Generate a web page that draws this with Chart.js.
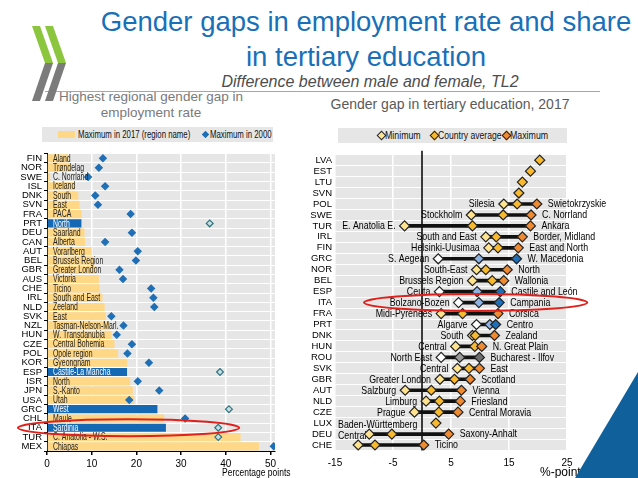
<!DOCTYPE html>
<html>
<head>
<meta charset="utf-8">
<script src="https://cdn.jsdelivr.net/npm/chart.js@4.4.1/dist/chart.umd.min.js"></script>
<style>
body { margin: 0; width: 638px; height: 478px; position: relative; overflow: hidden; background: #fff; font-family: "Liberation Sans", Arial, sans-serif; }
.abs { position: absolute; white-space: nowrap; }
.squeeze { display: inline-block; transform-origin: left center; }
.title { color: #1870B8; font-size: 27.5px; left: 92px; width: 548px; text-align: center; line-height: 30px; }
.sub { color: #7a7a7a; font-size: 13.5px; text-align: center; line-height: 16px; }
.legend { background: #E6E6E6; color: #111; line-height: 15px; }
.dia { position: absolute; width: 5px; height: 5px; transform: rotate(45deg); border: 1px solid #222; top: 4px; }
</style>
</head>
<body>

<div class="abs title" style="top:7px">Gender gaps in employment rate and share</div>
<div class="abs title" style="top:42px">in tertiary education</div>
<div class="abs" style="left:95px; width:550px; top:73px; text-align:center; font-size:16px; font-style:italic; color:#4d4d4d">Difference between male and female, TL2</div>
<div class="abs" style="left:45px; top:91px; width:555px; height:1px; background:#a6a6a6"></div>

<div class="abs sub" style="left:16px; width:270px; top:89px">Highest regional gender gap in<br>employment rate</div>
<div class="abs sub" style="left:305px; width:290px; top:96px; color:#5a5a5a; font-size:14px">Gender gap in tertiary education, 2017</div>

<div class="abs legend" style="left:42px; top:127px; width:231px; height:15px; font-size:10px">
  <span class="abs" style="left:16px; top:4px; width:17px; height:7px; background:#FFD887"></span>
  <span class="abs squeeze" style="left:36px; top:0; transform:scaleX(0.78)">Maximum in 2017 (region name)</span>
  <span class="dia" style="left:161px; width:3px; height:3px; background:#1F6FB6; border-color:#1F6FB6; top:5px"></span>
  <span class="abs squeeze" style="left:168px; top:0; transform:scaleX(0.78)">Maximum in 2000</span>
</div>

<div class="abs legend" style="left:338px; top:128px; width:229px; height:15px; font-size:10px">
  <span class="dia" style="left:40px; background:#FFE38F"></span>
  <span class="abs squeeze" style="left:47px; top:0; transform:scaleX(0.88)">Minimum</span>
  <span class="dia" style="left:93px; background:#F7BA2E"></span>
  <span class="abs squeeze" style="left:100px; top:0; transform:scaleX(0.86)">Country average</span>
  <span class="dia" style="left:165px; background:#EE8A32"></span>
  <span class="abs squeeze" style="left:172px; top:0; transform:scaleX(0.88)">Maximum</span>
</div>

<div class="abs" style="left:0; top:146px"><canvas id="empChart" width="300" height="332"></canvas></div>
<div class="abs" style="left:300px; top:146px"><canvas id="eduChart" width="338" height="332"></canvas></div>

<div class="abs squeeze" style="left:222px; top:467px; font-size:10px; color:#000; transform:scaleX(0.85)">Percentage points</div>
<div class="abs" style="left:540px; top:465px; font-size:12px; color:#000">%-points</div>

<svg class="abs" style="left:0; top:0; z-index:5" width="638" height="478">
  <polygon points="32,26 40,26 53,63 45,63" fill="#8CC63E"/>
  <polygon points="45,63 53,63 40,101 32,101" fill="#7b7b7b"/>
  <polygon points="45,26 53,26 66,63 58,63" fill="#8CC63E"/>
  <polygon points="58,63 66,63 53,101 45,101" fill="#7b7b7b"/>
  <polygon points="575,478 638,478 638,372" fill="#0F609B"/>
</svg>

<script>
var FONT = '"Liberation Sans", Arial, sans-serif';

// Left chart: highest regional gender gap in employment rate
var countriesL = ["FIN", "NOR", "SWE", "ISL", "DNK", "SVN", "FRA", "PRT", "DEU", "CAN", "AUT", "BEL", "GBR", "AUS", "CHE", "IRL",
    "NLD", "SVK", "NZL", "HUN", "CZE", "POL", "KOR", "ESP", "ISR", "JPN", "USA", "GRC", "CHL", "ITA", "TUR", "MEX"];
var regionsL = ["Aland", "Trøndelag", "C. Norrland", "Iceland", "South", "East", "PACA", "North", "Saarland", "Alberta", "Vorarlberg",
    "Brussels Region", "Greater London", "Victoria", "Ticino", "South and East", "Zeeland", "East", "Tasman-Nelson-Marl.",
    "W. Transdanubia", "Central Bohemia", "Opole region", "Gyeongnam", "Castile-La Mancha", "North", "S.-Kanto", "Utah",
    "West", "Maule", "Sardinia", "C. Anatolia - W.S.", "Chiapas"];
var gap2017 = [4.8, 5.5, 0.7, 6.2, 7.0, 7.3, 7.7, 7.7, 8.4, 8.5, 10.0, 10.3, 11.0, 11.6, 11.8, 12.4,
    12.9, 13.1, 14.0, 14.4, 15.1, 15.9, 17.9, 17.9, 18.6, 19.2, 19.5, 24.7, 26.2, 26.6, 43.3, 47.4];
var gap2000 = [12.5, 11.6, 9.2, 13.0, 10.8, 11.4, 18.7, 36.4, 19.0, 13.0, 20.3, 19.9, 16.2, 17.0, 23.3, 23.8,
    24.0, 14.4, 17.1, 15.6, 19.0, 18.0, 22.8, 38.7, 20.3, 25.1, 18.4, 40.7, 30.9, 38.3, 38.3, 50.7];
var highlightL = ["PRT", "ESP", "GRC", "ITA"];
var hollow2000 = ["PRT", "ESP", "GRC", "ITA", "TUR"];
var ticksL = [0, 10, 20, 30, 40, 50];

// Right chart: gender gap in tertiary education, 2017
var countriesR = ["LVA", "EST", "LTU", "SVN", "POL", "SWE", "TUR", "IRL", "FIN", "GRC", "NOR", "BEL", "ESP", "ITA",
    "FRA", "PRT", "DNK", "HUN", "ROU", "SVK", "GBR", "AUT", "NLD", "CZE", "LUX", "DEU", "CHE"];
var minR = [null, null, null, null, 14.1, 8.5, -3.0, 11.0, 11.5, 2.8, 9.4, 8.7, 3.0, 6.3,
    3.3, 9.4, 8.7, 5.8, 3.3, 6.1, 3.1, -2.9, 0.7, -1.3, null, -9.1, -11.0];
var avgR = [20.3, 18.7, 17.3, 16.7, 16.4, 14.0, 8.7, 12.8, 13.1, 9.8, 11.0, 12.1, 9.5, 9.8,
    7.0, 11.7, 9.2, 9.1, 6.5, 8.1, 5.6, 1.6, 3.0, 2.9, 2.4, -5.2, -8.1];
var maxR = [null, null, null, null, 19.8, 18.8, 18.7, 17.3, 16.6, 16.3, 14.7, 14.1, 13.5, 13.3,
    13.1, 12.7, 12.5, 10.3, 9.9, 9.9, 8.3, 6.8, 6.6, 6.2, null, 4.6, 0.3];
var minRegion = ["", "", "", "", "Silesia", "Stockholm", "E. Anatolia E.", "South and East", "Helsinki-Uusimaa", "S. Aegean",
    "South-East", "Brussels Region", "Ceuta", "Bolzano-Bozen", "Midi-Pyrénées", "Algarve", "South", "Central", "North East",
    "Central", "Greater London", "Salzburg", "Limburg", "Prague", "", "Baden-Württemberg", "Central"];
var maxRegion = ["", "", "", "", "Swietokrzyskie", "C. Norrland", "Ankara", "Border, Midland", "East and North", "W. Macedonia",
    "North", "Wallonia", "Castile and León", "Campania", "Corsica", "Centro", "Zealand", "N. Great Plain", "Bucharest - Ilfov",
    "East", "Scotland", "Vienna", "Friesland", "Central Moravia", "", "Saxony-Anhalt", "Ticino"];
var blueRows = ["GRC", "ESP", "ITA", "PRT"];
var greyRows = ["ROU"];
var ticksR = [-15, -5, 5, 15, 25];

Chart.defaults.font.family = FONT;
Chart.defaults.color = "#000";

// narrow text: the original uses a condensed face, so squeeze it horizontally
function squeezedText(ctx, text, x, y, align, sx) {
    ctx.save();
    ctx.translate(x, y);
    ctx.scale(sx, 1);
    ctx.textAlign = align;
    ctx.fillText(text, 0, 0);
    ctx.restore();
}

// gray plot background
var grayBg = {
    id: "grayBg",
    beforeDraw: function (chart) {
        var a = chart.chartArea;
        chart.ctx.save();
        chart.ctx.fillStyle = "#E6E6E6";
        chart.ctx.fillRect(a.left, a.top, a.right - a.left, a.bottom - a.top);
        chart.ctx.restore();
    }
};

// red ring around the Italian row
function ringPlugin(xFrom, xTo) {
    return {
        id: "ring",
        afterDraw: function (chart) {
            var ctx = chart.ctx;
            var y = chart.scales.y.getPixelForValue(chart.data.labels.indexOf("ITA"));
            var x1 = chart.scales.x.getPixelForValue(xFrom);
            var x2 = chart.scales.x.getPixelForValue(xTo);
            ctx.save();
            ctx.strokeStyle = "#E0201B";
            ctx.lineWidth = 2;
            ctx.beginPath();
            ctx.ellipse((x1 + x2) / 2, y, (x2 - x1) / 2, 8.5, 0, 0, Math.PI * 2);
            ctx.stroke();
            ctx.restore();
        }
    };
}

var barLabels = {
    id: "barLabels",
    afterDatasetsDraw: function (chart) {
        var ctx = chart.ctx;
        ctx.save();
        ctx.font = "10px " + FONT;
        ctx.textBaseline = "middle";
        regionsL.forEach(function (name, i) {
            var y = chart.scales.y.getPixelForValue(i);
            ctx.fillStyle = highlightL.indexOf(countriesL[i]) >= 0 ? "#fff" : "#222";
            squeezedText(ctx, name, chart.chartArea.left + 6, y + 0.5, "left", 0.69);
        });
        ctx.restore();
    }
};

new Chart(document.getElementById("empChart"), {
    type: "bar",
    data: {
        labels: countriesL,
        datasets: [
            {
                type: "line",
                label: "Maximum in 2000",
                data: gap2000,
                showLine: false,
                pointStyle: "rectRot",
                pointRadius: 3.4,
                pointBorderWidth: 1.2,
                pointBackgroundColor: countriesL.map(function (c) { return hollow2000.indexOf(c) >= 0 ? "#C9DFE3" : "#1F6FB6"; }),
                pointBorderColor: countriesL.map(function (c) { return hollow2000.indexOf(c) >= 0 ? "#2E7480" : "#1F6FB6"; }),
                order: 0
            },
            {
                label: "Maximum in 2017 (region name)",
                data: gap2017,
                backgroundColor: countriesL.map(function (c) { return highlightL.indexOf(c) >= 0 ? "#1468B4" : "#FFD887"; }),
                categoryPercentage: 1,
                barPercentage: 0.88,
                order: 1
            }
        ]
    },
    plugins: [grayBg, barLabels, ringPlugin(-6.5, 43)],
    options: {
        indexAxis: "y",
        responsive: false,
        animation: false,
        layout: { padding: { top: 6, right: 25, bottom: 0, left: 0 } },
        plugins: { legend: { display: false }, tooltip: { enabled: false } },
        scales: {
            x: {
                type: "linear", min: 0, max: 51,
                afterBuildTicks: function (s) { s.ticks = ticksL.map(function (v) { return { value: v }; }); },
                afterFit: function (s) { s.height = 27; },
                grid: { color: "#fff", lineWidth: 1.5, tickColor: "#000", tickLength: 4 },
                border: { color: "#000" },
                ticks: { font: { size: 10 }, padding: 3 }
            },
            y: {
                type: "category",
                afterFit: function (s) { s.width = 47; },
                grid: { color: "#fff", lineWidth: 1, tickColor: "#000", tickLength: 3 },
                border: { color: "#000" },
                ticks: { font: { size: 9.5 }, padding: 2, autoSkip: false }
            }
        }
    }
});

function rowColor(c, normal, blue, grey) {
    if (blueRows.indexOf(c) >= 0) return blue;
    if (greyRows.indexOf(c) >= 0) return grey;
    return normal;
}

// region names and the zero line, under the diamonds
var eduDecor = {
    id: "eduDecor",
    beforeDatasetsDraw: function (chart) {
        var ctx = chart.ctx;
        var xs = chart.scales.x, ys = chart.scales.y, a = chart.chartArea;
        var sx = 0.84;
        ctx.save();
        ctx.font = "10.5px " + FONT;
        ctx.fillStyle = "#000";
        ctx.textBaseline = "middle";
        countriesR.forEach(function (c, i) {
            var y = ys.getPixelForValue(i) + 0.5;
            if (minR[i] !== null && minRegion[i]) {
                var xm = xs.getPixelForValue(minR[i]) - 9;
                var w = ctx.measureText(minRegion[i]).width * sx;
                if (xm - w < a.left) {
                    squeezedText(ctx, minRegion[i], a.left + 3, y - 9, "left", sx);
                } else {
                    squeezedText(ctx, minRegion[i], xm, y, "right", sx);
                }
            }
            if (maxR[i] !== null && maxRegion[i]) {
                squeezedText(ctx, maxRegion[i], xs.getPixelForValue(maxR[i]) + 11, y, "left", sx);
            }
        });
        var x0 = xs.getPixelForValue(0);
        ctx.strokeStyle = "#000";
        ctx.lineWidth = 1.5;
        ctx.beginPath();
        ctx.moveTo(x0, a.top - 4);
        ctx.lineTo(x0, a.bottom);
        ctx.stroke();
        ctx.restore();
    }
};

function diamondSet(label, values, colors, order) {
    return {
        type: "line",
        label: label,
        data: values,
        showLine: false,
        pointStyle: "rectRot",
        pointRadius: 5,
        pointBorderWidth: 1.2,
        pointBorderColor: "#222",
        pointBackgroundColor: colors,
        order: order
    };
}

new Chart(document.getElementById("eduChart"), {
    type: "bar",
    data: {
        labels: countriesR,
        datasets: [
            diamondSet("Maximum", maxR, countriesR.map(function (c) { return rowColor(c, "#EE8A32", "#1F6EB6", "#6D6D6D"); }), 1),
            diamondSet("Country average", avgR, countriesR.map(function (c) { return rowColor(c, "#F7BA2E", "#8DB3E2", "#9A9A9A"); }), 2),
            diamondSet("Minimum", minR, countriesR.map(function (c) { return rowColor(c, "#FFE38F", "#FFFFFF", "#FFFFFF"); }), 3),
            {
                label: "range",
                data: minR.map(function (v, i) { return v === null ? null : [v, maxR[i]]; }),
                backgroundColor: "#111",
                barThickness: 3,
                order: 4
            }
        ]
    },
    plugins: [grayBg, eduDecor, ringPlugin(-10, 28.5)],
    options: {
        indexAxis: "y",
        responsive: false,
        animation: false,
        layout: { padding: { top: 6.5, right: 71, bottom: 0, left: 0 } },
        plugins: { legend: { display: false }, tooltip: { enabled: false } },
        scales: {
            x: {
                type: "linear", min: -15, max: 25,
                afterBuildTicks: function (s) { s.ticks = ticksR.map(function (v) { return { value: v }; }); },
                afterFit: function (s) { s.height = 27.5; },
                grid: { color: "#fff", lineWidth: 1.5, drawTicks: false },
                border: { display: false },
                ticks: { font: { size: 10 }, padding: 7 }
            },
            y: {
                type: "category",
                afterFit: function (s) { s.width = 35; },
                grid: { color: "#fff", lineWidth: 1, drawTicks: false },
                border: { display: false },
                ticks: { font: { size: 9.5 }, padding: 3, autoSkip: false }
            }
        }
    }
});
</script>
</body>
</html>
